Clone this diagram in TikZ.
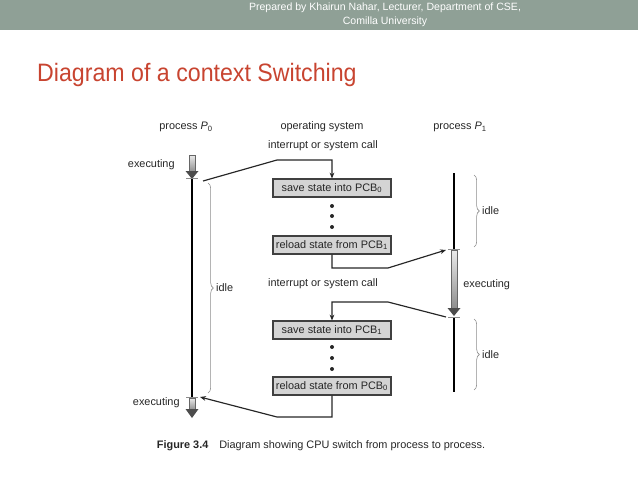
\documentclass[tikz,border=0pt]{standalone}
\usepackage{fontspec}
\setmainfont{Liberation Sans}
\newfontfamily\titlefont[FakeStretch=0.92]{Liberation Sans}
\usetikzlibrary{arrows.meta, decorations.pathreplacing}
\definecolor{bandgray}{RGB}{143,160,150}
\definecolor{titlered}{RGB}{200,68,48}

\begin{document}
\begin{tikzpicture}[x=0.03cm, y=-0.03cm,
    every node/.style={font=\fontsize{9.3}{11}\selectfont, text=black!85, inner sep=1pt},
    pcb/.style={draw=black!75, fill=black!17, line width=0.9pt, minimum width=3.54cm, minimum height=0.54cm, inner sep=0pt},
    link/.style={black!85, line width=1pt, -{Stealth[length=5pt, width=4pt]}},
    run/.style={black, line width=2.2pt},
    shaft/.style={draw=black!60, top color=black!8, bottom color=black!45, line width=0.5pt},
    head/.style={fill=black!70},
    tickline/.style={black!45, line width=0.6pt},
    curly/.style={draw=black!45, line width=0.5pt, decorate, decoration={brace, amplitude=0.16cm}}]
  \useasboundingbox (0,0) rectangle (638,478);
  \fill[bandgray] (0,0) rectangle (638,30);
  \node[align=center, text=white, font=\fontsize{9}{12}\selectfont] (band) at (385,15)
    {Prepared by Khairun Nahar, Lecturer, Department of CSE,\\ Comilla University};
  \node[anchor=west, inner sep=0pt, text=titlered, font=\titlefont\fontsize{21.5}{24}\selectfont] (title) at (37,75)
    {Diagram of a context Switching};

  \node (p0) at (186,127) {process \textit{P}\textsubscript{0}};
  \node (os) at (322,127) {operating system};
  \node (p1) at (460,127) {process \textit{P}\textsubscript{1}};
  \node (int1) at (323,146) {interrupt or system call};
  \node (int2) at (323,284) {interrupt or system call};
  \node[anchor=east] (exe0a) at (176,165) {executing};
  \node[anchor=east] (exe0b) at (181,403) {executing};
  \node[anchor=west] (exe1) at (462,285) {executing};

  \node[pcb] (b1) at (332,188) {save state into PCB\textsubscript{0}};
  \node[pcb] (b2) at (332,245) {reload state from PCB\textsubscript{1}};
  \node[pcb] (b3) at (332,330) {save state into PCB\textsubscript{1}};
  \node[pcb] (b4) at (332,386) {reload state from PCB\textsubscript{0}};
  \foreach \y in {206,216,227,347,358,369}
    \fill[black!85] (332,\y) circle[radius=0.06cm];

  \draw[run] (192,178) -- (192,397);
  \draw[run] (454,173) -- (454,249);
  \draw[run] (454,317) -- (454,392);

  \shade[shaft] (189,155) rectangle (195,172);
  \fill[head] (185.5,171) -- (198.5,171) -- (192,179) -- cycle;
  \shade[shaft] (189,398) rectangle (195,410);
  \fill[head] (185.5,409) -- (198.5,409) -- (192,418) -- cycle;
  \shade[shaft] (451,250) rectangle (457,309);
  \fill[head] (447.5,308) -- (460.5,308) -- (454,316) -- cycle;

  \draw[tickline] (186,178) -- (198,178);
  \draw[tickline] (186,397) -- (198,397);
  \draw[tickline] (448,249) -- (460,249);
  \draw[tickline] (448,317) -- (460,317);

  \draw[curly] (208,183) -- (208,393) node[midway, anchor=west, xshift=0.2cm] (idle0) {idle};
  \draw[curly] (474,175) -- (474,247) node[midway, anchor=west, xshift=0.2cm] (idle1) {idle};
  \draw[curly] (474,319) -- (474,390) node[midway, anchor=west, xshift=0.2cm] (idle2) {idle};

  \coordinate (p0out) at (203,181);
  \coordinate (p1in) at (446,250);
  \coordinate (p1out) at (446,317);
  \coordinate (p0in) at (200,397);
  \draw[link] (p0out) -- (277,160) -| (b1.north);
  \draw[link] (b2.south) |- (388,268) -- (p1in);
  \draw[link] (p1out) -- (388,302) -| (b3.north);
  \draw[link] (b4.south) |- (277,417) -- (p0in);

  \node (cap) at (321,446) {\textbf{Figure 3.4}\quad Diagram showing CPU switch from process to process.};
\end{tikzpicture}
\end{document}
